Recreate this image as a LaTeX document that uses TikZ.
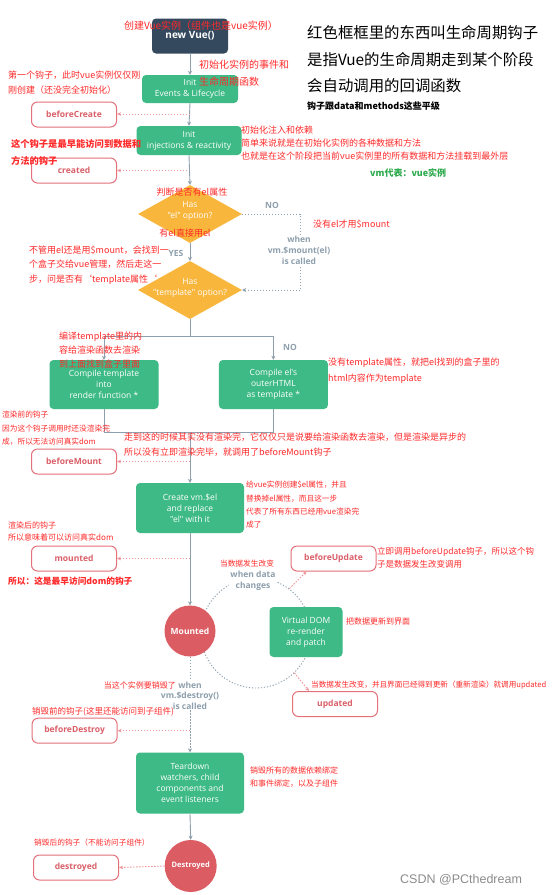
\documentclass[tikz,border=0pt]{standalone}
\usepackage{fontspec}
\setmainfont{Noto Sans CJK SC}
\newfontfamily\enf{Open Sans}
\newfontfamily\wmf{Liberation Sans}
\usetikzlibrary{arrows.meta,shapes.geometric}
\newcommand\myfs[2]{\fontsize{#1}{#2}\selectfont}
\definecolor{vgreen}{HTML}{3DBA85}
\definecolor{vdark}{HTML}{35495E}
\definecolor{vyellow}{HTML}{F9B63C}
\definecolor{vred}{HTML}{DC5C63}
\definecolor{hookline}{HTML}{E27179}
\definecolor{hooktxt}{HTML}{DA5F68}
\definecolor{annred}{HTML}{FF2A2A}
\definecolor{conn}{HTML}{8E9FAD}
\definecolor{lred}{HTML}{F0959B}
\definecolor{agreen}{HTML}{2EAA4E}
\begin{document}
\begin{tikzpicture}[x=1pt,y=-1pt,
  annot/.style={text=annred, inner sep=0pt, align=left, anchor=west},
  gbox/.style={fill=vgreen, rounded corners=4pt, text=white, font=\enf\myfs{8.5}{11}, align=center, inner sep=0pt},
  hookbox/.style={draw=hookline, line width=1pt, rounded corners=6pt, fill=white, minimum width=85pt, minimum height=25pt, text=hooktxt, font=\enf\bfseries\myfs{8.5}{10}, inner sep=0pt},
  glabel/.style={text=conn, font=\enf\bfseries\myfs{8.5}{11}, align=center, inner sep=1pt},
  flow/.style={draw=conn, line width=0.9pt, -{Stealth[length=4pt,width=4pt]}},
  plain/.style={draw=conn, line width=0.9pt},
  dotline/.style={draw=conn, line width=0.9pt, dash pattern=on 1.2pt off 1.8pt},
  hookarr/.style={draw=lred, line width=0.9pt, dash pattern=on 1.5pt off 1.5pt, -{Stealth[length=4pt,width=3.5pt]}},
  dia/.style={diamond, fill=vyellow, minimum width=104pt, minimum height=58pt, inner sep=0pt},
  rcirc/.style={circle, fill=vred, inner sep=0pt, text=white, font=\enf\bfseries\myfs{8.5}{10}},
]
\useasboundingbox[fill=white] (0,0) rectangle (560,895);

% ---------- top ----------
\node[fill=vdark, rounded corners=4pt, minimum width=76pt, minimum height=35pt, text=white, font=\enf\bfseries\myfs{10}{12}, inner sep=0pt] (nv) at (190,36) {new Vue()};
\node[annot, anchor=center, font=\myfs{10}{12}] (t1) at (201,26) {创建Vue实例（组件也是vue实例）};

\node[inner sep=0pt, align=left, anchor=west, font=\myfs{15.4}{26.5}] (big) at (307,59.5) {红色框框里的东西叫生命周期钩子\\是指Vue的生命周期走到某个阶段\\会自动调用的回调函数};
\node[inner sep=0pt, anchor=west, font=\bfseries\myfs{9}{11}] (big2) at (307,106) {钩子跟data和methods这些平级};

\node[gbox, minimum width=96pt, minimum height=28pt] (ie) at (190,89) {Init\\Events \& Lifecycle};
\draw[flow] (nv.south) -- (ie.north);
\node[annot, font=\myfs{10}{17}] (t2) at (199,73.5) {初始化实例的事件和\\生命周期函数};
\node[annot, font=\myfs{9}{15}] (t3) at (8,82.5) {第一个钩子，此时vue实例仅仅刚\\刚创建（还没完全初始化）};

\node[hookbox] (bc) at (74,114.5) {beforeCreate};
\node[gbox, minimum width=105pt, minimum height=29pt] (ii) at (189,140.5) {Init\\injections \& reactivity};
\draw[flow] (ie.south) -- (ii.north);
\coordinate (h1) at (190,114);
\draw[hookarr] (h1) -- (h1 -| bc.east);

\node[annot, font=\myfs{9}{13}] (t4) at (241,143) {初始化注入和依赖\\简单来说就是在初始化实例的各种数据和方法\\也就是在这个阶段把当前vue实例里的所有数据和方法挂载到最外层};
\node[annot, text=agreen, font=\bfseries\myfs{9}{11}] (t5) at (370,173) {vm代表：vue实例};

\node[hookbox] (cd) at (74,170.5) {created};
\coordinate (h2) at (190,170.5);
\draw[hookarr] (h2) -- (h2 -| cd.east);
\node[annot, font=\bfseries\myfs{9.3}{16.6}] (t6) at (10.8,152.3) {这个钩子是最早能访问到数据和\\方法的钩子};

% ---------- el diamond ----------
\node[dia] (d1) at (190,214) {};
\draw[flow] (ii.south) -- (d1.north);
\node[text=white, font=\enf\myfs{8.5}{11}, align=center, inner sep=0pt] (d1t) at (190,210.5) {Has\\"el" option?};
\node[annot, anchor=center, font=\myfs{9}{11}] (t7) at (192,192) {判断是否有el属性};
\node[annot, anchor=center, font=\myfs{9}{11}] (t8) at (185,233) {有el直接用el};

\node[dia] (d2) at (190,290) {};
\node[text=white, font=\enf\myfs{8.5}{11}, align=center, inner sep=0pt] (d2t) at (190,287.5) {Has\\"template" option?};
\draw[flow] (d1.south) -- (d2.north);
\node[glabel] (yes) at (176,253) {YES};

\draw[dotline] (d1.east) -- ++(58,0) coordinate (nc1) -- (nc1 |- d2.east);
\draw[dotline, -{Stealth[length=4pt,width=4pt]}] (nc1 |- d2.east) -- (d2.east);
\node[glabel] (no1) at (272,205) {NO};
\node[glabel, fill=white, inner sep=1pt] (mt) at (299,250) {when\\vm.\$mount(el)\\is called};
\node[annot, font=\myfs{9}{11}] (t9) at (313,224) {没有el才用\$mount};
\node[annot, font=\myfs{9}{14.5}] (t10) at (29,265) {不管用el还是用\$mount，会找到一\\个盒子交给vue管理，然后走这一\\步，问是否有`template属性`};

% ---------- compile ----------
\node[gbox, minimum width=109pt, minimum height=49pt] (ct) at (104,384.5) {Compile template\\into\\render function *};
\node[gbox, minimum width=109pt, minimum height=49pt] (ce) at (273.4,384.5) {Compile el's\\outerHTML\\as template *};
\coordinate (sp1) at (190,336);
\draw[plain] (d2.south) -- (sp1);
\draw[flow] (sp1) -| (ct.north);
\draw[flow] (sp1) -| (ce.north);
\node[glabel] (no2) at (290,347) {NO};
\node[annot, font=\myfs{9}{14}] (t11) at (59,350.5) {编译template里的内\\容给渲染函数去渲染\\到上面找到盒子里面};
\node[annot, font=\myfs{9}{16}] (t12) at (328,371) {没有template属性，就把el找到的盒子里的\\html内容作为template};

\node[gbox, minimum width=108pt, minimum height=50pt] (cr) at (190,508) {Create vm.\$el\\and replace\\"el" with it};
\coordinate (sp2) at (190,432);
\draw[plain] (ct.south) |- (sp2);
\draw[plain] (ce.south) |- (sp2);
\draw[flow] (sp2) -- (cr.north);

\node[annot, font=\myfs{7.7}{13.5}] (t13) at (2,428.5) {渲染前的钩子\\因为这个钩子调用时还没渲染完\\成，所以无法访问真实dom};
\node[annot, font=\myfs{9}{15}] (t14) at (124,444.5) {走到这的时候其实没有渲染完，它仅仅只是说要给渲染函数去渲染，但是渲染是异步的\\所以没有立即渲染完毕，就调用了beforeMount钩子};
\node[hookbox] (bm) at (74,461.5) {beforeMount};
\coordinate (h3) at (190,461.5);
\draw[hookarr] (h3) -- (h3 -| bm.east);
\node[annot, font=\myfs{7.7}{13.3}] (t15) at (246,505) {给vue实例创建\$el属性，并且\\替换掉el属性，而且这一步\\代表了所有东西已经用vue渲染完\\成了};

% ---------- mounted ----------
\node[draw=conn, line width=0.9pt, dash pattern=on 1.2pt off 1.8pt, circle, minimum size=110pt, inner sep=0pt] (loop) at (256,633) {};
\node[rcirc, minimum size=51pt] (mo) at (190,631) {Mounted};
\draw[flow] (cr.south) -- (mo.north);
\node[annot, font=\myfs{8}{12}] (t16) at (8,531) {渲染后的钩子\\所以意味着可以访问真实dom};
\node[hookbox] (md) at (74,558.5) {mounted};
\coordinate (h4) at (190,558.5);
\draw[hookarr] (h4) -- (h4 -| md.east);
\node[annot, font=\bfseries\myfs{8.7}{11}] (t17) at (8,581) {所以：这是最早访问dom的钩子};

\node[glabel, fill=white] (wd) at (253,580.5) {when data\\changes};
\node[annot, anchor=center, font=\myfs{7.7}{10}] (t18) at (247,564) {当数据发生改变};
\node[hookbox] (bu) at (333.5,558.5) {beforeUpdate};
\node[annot, font=\myfs{8.5}{12.5}] (t19) at (377,558) {立即调用beforeUpdate钩子，所以这个钩\\子是数据发生改变调用};
\node[gbox, minimum width=73pt, minimum height=50pt] (vd) at (306,632) {Virtual DOM\\re-render\\and patch};
\node[annot, font=\myfs{8}{10}] (t20) at (346,621) {把数据更新到界面};
\node[hookbox] (up) at (335,704) {updated};
\draw[hookarr] (loop.53) -- ([xshift=-27pt]bu.south);
\draw[hookarr] (loop.-46) -- ([xshift=-26pt]up.north);
\node[annot, font=\myfs{7.6}{10}] (t21) at (311,685) {当数据发生改变，并且界面已经得到更新（重新渲染）就调用updated};

% ---------- destroy ----------
\node[glabel, fill=white, font=\enf\bfseries\myfs{8.5}{10.5}] (dt) at (190,695.5) {when\\vm.\$destroy()\\is called};
\node[annot, anchor=east, font=\myfs{8}{10}] (t22) at (176,685) {当这个实例要销毁了};
\draw[dotline] (mo.south) -- (dt.north);
\node[gbox, minimum width=108pt, minimum height=61pt] (td) at (190,783) {Teardown\\watchers, child\\components and\\event listeners};
\draw[dotline, -{Stealth[length=4pt,width=4pt]}] (dt.south) -- (td.north);
\node[hookbox] (bd) at (74.6,730.7) {beforeDestroy};
\coordinate (h5) at (190,730.7);
\draw[hookarr] (h5) -- (h5 -| bd.east);
\node[annot, font=\myfs{8.5}{10}] (t23) at (32,711.7) {销毁前的钩子(这里还能访问到子组件)};
\node[annot, font=\myfs{8}{12.6}] (t24) at (250,777) {销毁所有的数据依赖绑定\\和事件绑定，以及子组件};

\node[rcirc, minimum size=52pt, font=\enf\bfseries\myfs{7.5}{9}] (de) at (190.7,866) {Destroyed};
\draw[flow] (td.south) -- (de.north);
\node[hookbox] (dd) at (76,867.5) {destroyed};
\draw[hookarr] (de.west) -- (dd.east);
\node[annot, font=\myfs{7.7}{10}] (t25) at (34,843) {销毁后的钩子（不能访问子组件）};

\node[inner sep=0pt, anchor=west, text=black!45, font=\wmf\myfs{12.5}{14}] (wm) at (400,880) {CSDN @PCthedream};
\end{tikzpicture}
\end{document}
